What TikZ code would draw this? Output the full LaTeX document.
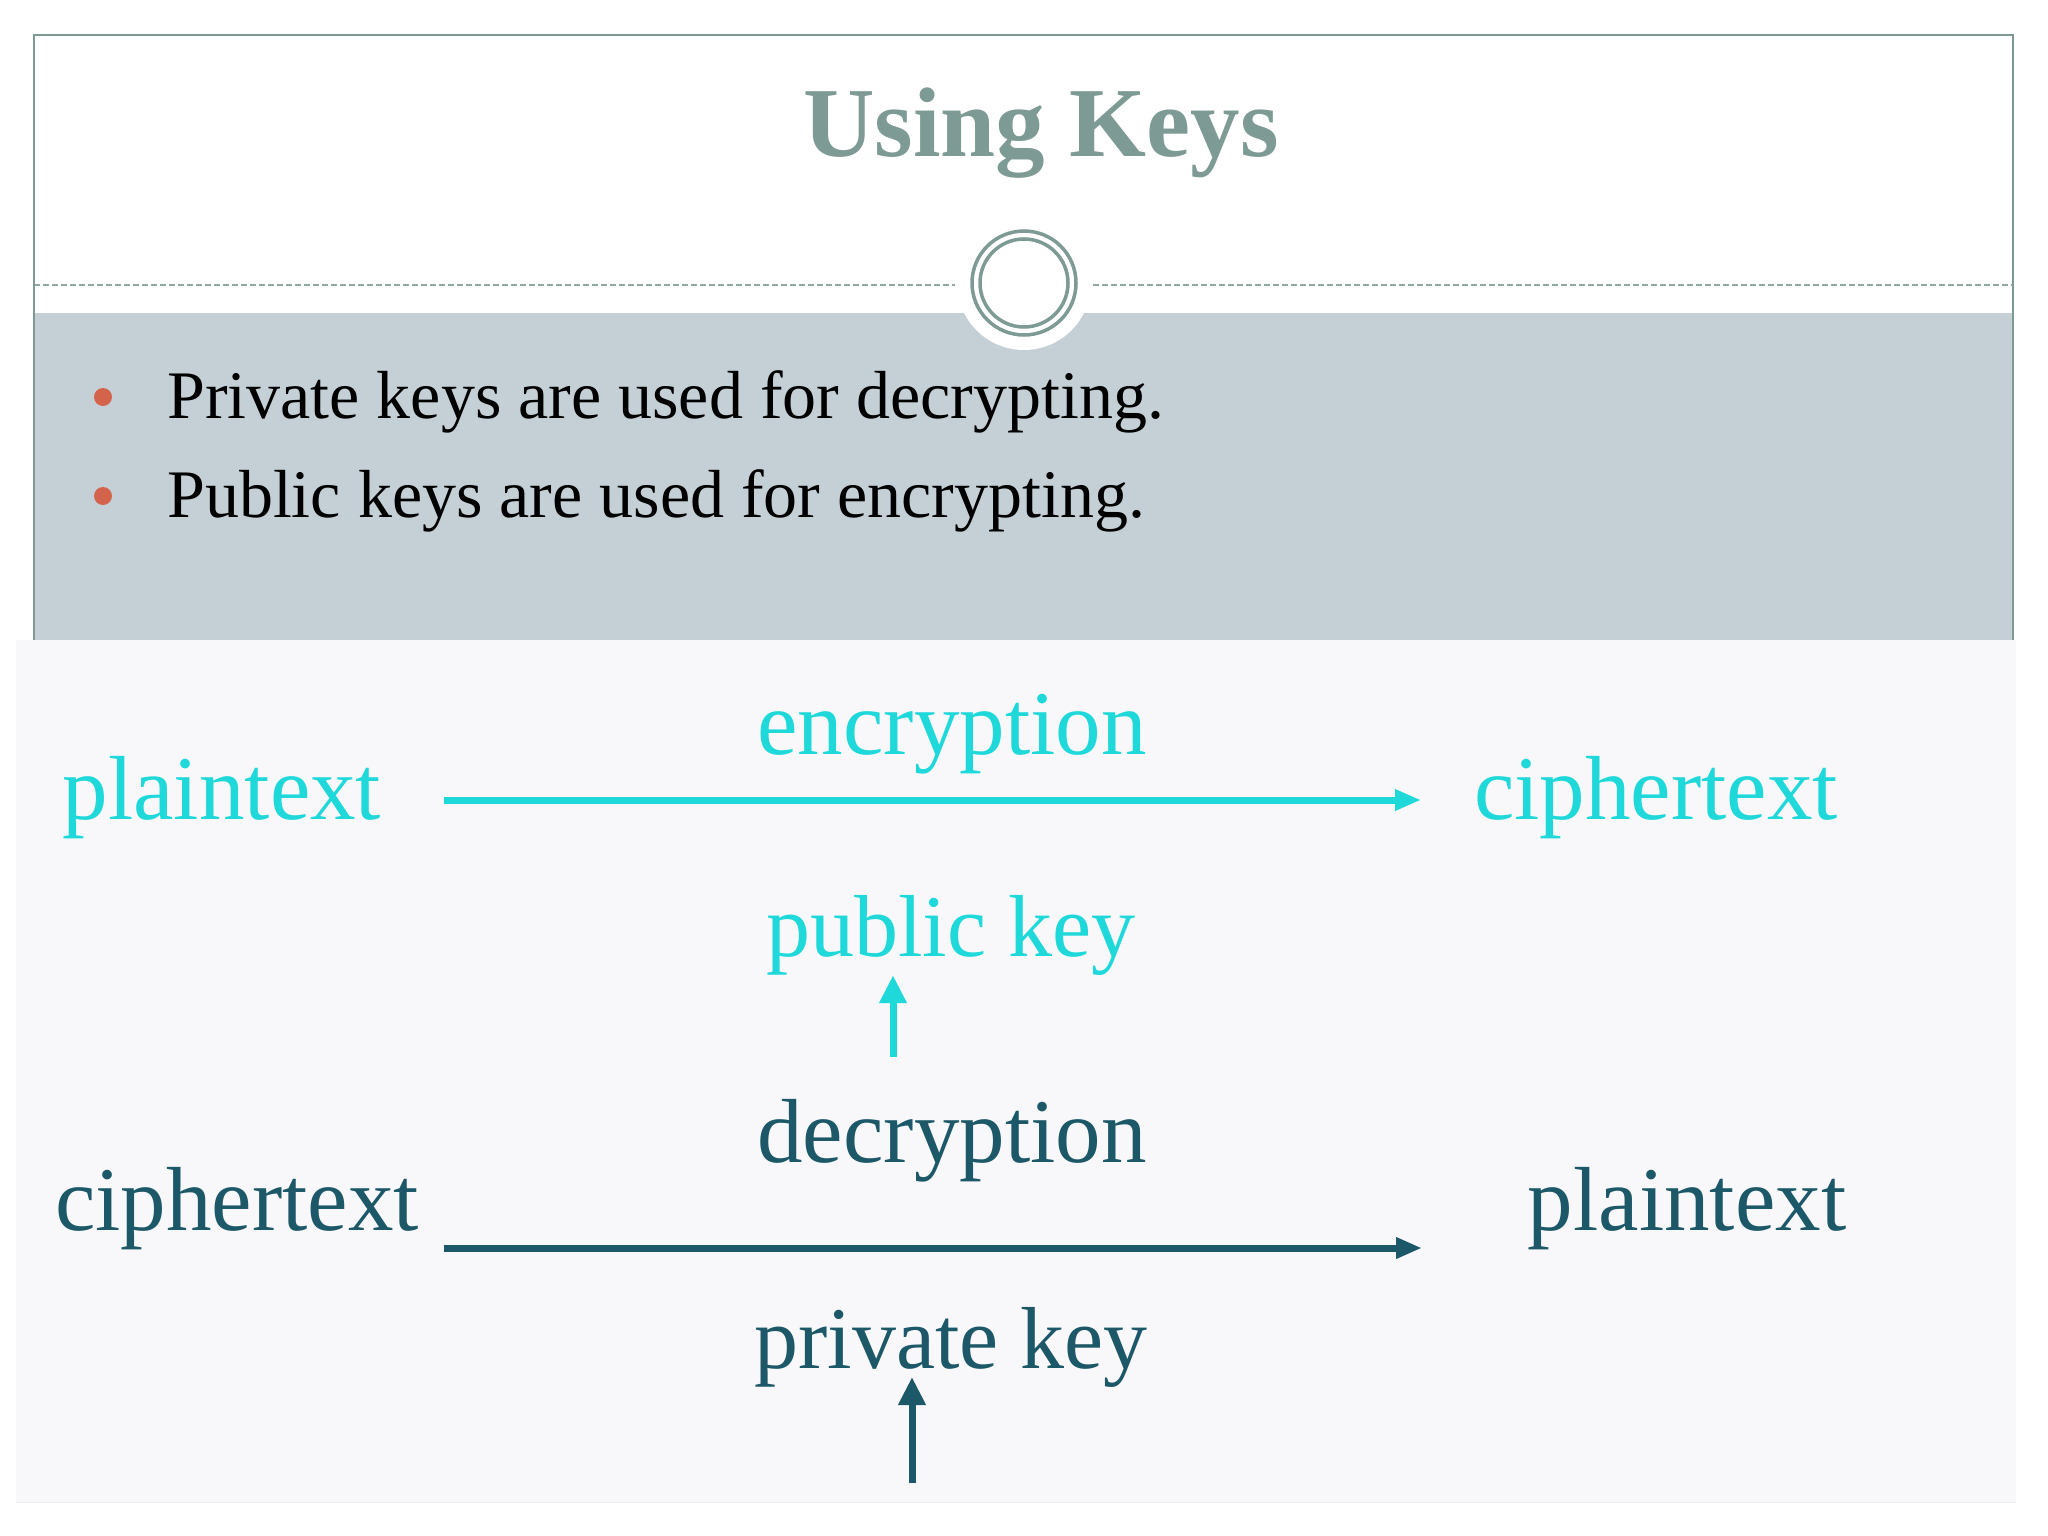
\documentclass[tikz,border=0pt]{standalone}
\usepackage{fontspec}
\setmainfont{Liberation Serif}
\usetikzlibrary{arrows.meta}
\definecolor{frameC}{HTML}{7D9A94}
\definecolor{bandC}{HTML}{C5D0D6}
\definecolor{bulletC}{HTML}{D3644B}
\definecolor{cyanC}{HTML}{1FD8DA}
\definecolor{tealC}{HTML}{1C5868}
\definecolor{imgbg}{HTML}{F8F8FA}
\definecolor{dashC}{HTML}{8FA7A1}
\tikzset{
  diag/.style={inner sep=0pt, anchor=base, font=\fontsize{91}{100}\selectfont},
  keytext/.style={inner sep=0pt, anchor=base, font=\fontsize{88}{100}\selectfont},
  cyantext/.style={diag, text=cyanC},
  tealtext/.style={diag, text=tealC},
  bullettext/.style={inner sep=0pt, anchor=base west, text=black, font=\fontsize{68}{80}\selectfont},
  bulletdot/.style={circle, fill=bulletC, minimum size=18pt, inner sep=0pt},
  harr/.style={line width=7pt, -{Triangle[length=26pt,width=20pt]}},
  varr/.style={line width=7pt, -{Triangle[length=28pt,width=26pt]}},
}
\begin{document}
\begin{tikzpicture}[x=1pt,y=-1pt]
\useasboundingbox (0,0) rectangle (2048,1536);
\fill[white] (0,0) rectangle (2048,1536);
% gray band
\fill[bandC] (34,313) rectangle (2013,640);
% white disc and rings
\fill[white] (1024,283) circle (67pt);
\draw[dashC, line width=1.5pt, dash pattern=on 6pt off 3pt] (34,285) -- (955,285);
\draw[dashC, line width=1.5pt, dash pattern=on 6pt off 3pt] (1093,285) -- (2013,285);
\draw[frameC, line width=3.5pt] (1024,283) circle (52pt);
\draw[frameC, line width=3.5pt] (1024,283) circle (44pt);
% frame
\draw[frameC, line width=2.5pt] (34,640) -- (34,35) -- (2013,35) -- (2013,640);
% title
\node[inner sep=0pt, anchor=base, text=frameC, font=\fontsize{99}{110}\selectfont\bfseries] (title) at (1041,157) {Using Keys};
% bullets
\node[bulletdot] (b1) at (103,397) {};
\node[bullettext] (t1) at (167,418) {Private keys are used for decrypting.};
\node[bulletdot] (b2) at (103,496) {};
\node[bullettext] (t2) at (167,517) {Public keys are used for encrypting.};
% image area
\fill[imgbg] (16,640) rectangle (2016,1502);
\draw[gray!12, line width=1pt] (16,1502) -- (2016,1502);
% encryption diagram
\node[cyantext] (pt1) at (222,819) {plaintext};
\node[cyantext] (enc) at (952,754) {encryption};
\node[cyantext] (ct1) at (1656,819) {ciphertext};
\node[keytext, text=cyanC] (pub) at (951,956) {public key};
\coordinate (e1s) at (444,800);
\coordinate (e1e) at (1421,800);
\draw[harr, cyanC] (e1s) -- (e1e);
\coordinate (p1s) at (893,1057);
\draw[varr, cyanC] (p1s) -- (p1s |- pub.south);
% decryption diagram
\node[tealtext] (ct2) at (237,1230) {ciphertext};
\node[tealtext] (dec) at (952,1162) {decryption};
\node[tealtext] (pt2) at (1687,1230) {plaintext};
\node[keytext, text=tealC] (priv) at (951,1368) {private key};
\coordinate (d1s) at (444,1248);
\coordinate (d1e) at (1422,1248);
\draw[harr, tealC] (d1s) -- (d1e);
\coordinate (p2s) at (912,1483);
\coordinate (p2e) at (912,1377);
\draw[varr, tealC] (p2s) -- (p2e);
\end{tikzpicture}
\end{document}
